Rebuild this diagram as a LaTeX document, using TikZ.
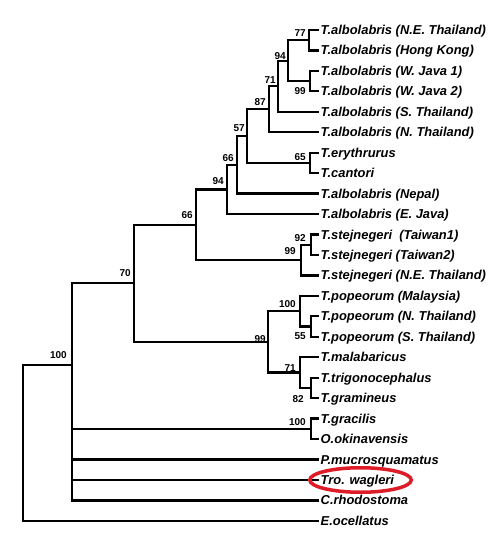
\documentclass[tikz,border=0pt]{standalone}
\usepackage{fontspec}
\newfontfamily\treefont{Liberation Sans}
\definecolor{hlred}{RGB}{222,28,40}
\tikzset{
  br/.style={line width=2.3pt, line join=miter},
  leaf/.style={anchor=west, inner sep=1.5pt, text height=9.1pt, text depth=0pt,
    font=\treefont\bfseries\itshape\fontsize{12.9}{14}\selectfont},
  bootval/.style={anchor=east, inner sep=0pt,
    font=\treefont\bfseries\fontsize{10}{11}\selectfont},
  hlring/.style={draw=hlred, line width=3.5pt}
}
\begin{document}
\begin{tikzpicture}[x=1pt,y=-1pt]
\useasboundingbox[fill=white] (0,0) rectangle (495,540);
% leaves
\node[leaf] (t1)  at (319,30)    {T.albolabris (N.E. Thailand)};
\node[leaf] (t2)  at (319,50.45) {T.albolabris (Hong Kong)};
\node[leaf] (t3)  at (319,70.9)  {T.albolabris (W. Java 1)};
\node[leaf] (t4)  at (319,91.35) {T.albolabris (W. Java 2)};
\node[leaf] (t5)  at (319,111.8) {T.albolabris (S. Thailand)};
\node[leaf] (t6)  at (319,132.25){T.albolabris (N. Thailand)};
\node[leaf] (t7)  at (319,152.7) {T.erythrurus};
\node[leaf] (t8)  at (319,173.15){T.cantori};
\node[leaf] (t9)  at (319,193.6) {T.albolabris (Nepal)};
\node[leaf] (t10) at (319,214.05){T.albolabris (E. Java)};
\node[leaf] (t11) at (319,234.5) {T.stejnegeri\ \ (Taiwan1)};
\node[leaf] (t12) at (319,254.95){T.stejnegeri (Taiwan2)};
\node[leaf] (t13) at (319,275.4) {T.stejnegeri (N.E. Thailand)};
\node[leaf] (t14) at (319,295.85){T.popeorum (Malaysia)};
\node[leaf] (t15) at (319,316.3) {T.popeorum (N. Thailand)};
\node[leaf] (t16) at (319,336.75){T.popeorum (S. Thailand)};
\node[leaf] (t17) at (319,357.2) {T.malabaricus};
\node[leaf] (t18) at (319,377.65){T.trigonocephalus};
\node[leaf] (t19) at (319,398.1) {T.gramineus};
\node[leaf] (t20) at (319,418.55){T.gracilis};
\node[leaf] (t21) at (319,439)   {O.okinavensis};
\node[leaf] (t22) at (319,459.45){P.mucrosquamatus};
\node[leaf] (t23) at (319,479.9) {Tro. wagleri};
\node[leaf] (t24) at (319,500.35){C.rhodostoma};
\node[leaf] (t25) at (319,520.8) {E.ocellatus};
% internal nodes
\coordinate (A)   at (309,40.2);
\coordinate (B)   at (310,81.1);
\coordinate (C)   at (288,60.7);
\coordinate (D)   at (278,86.2);
\coordinate (E)   at (269,109.2);
\coordinate (P65) at (310,162.9);
\coordinate (F)   at (247,136.1);
\coordinate (G)   at (237,164.9);
\coordinate (H)   at (227,189.5);
\coordinate (S92) at (311,244.7);
\coordinate (S99) at (301,260.1);
\coordinate (I)   at (196,224.8);
\coordinate (M)   at (311,326.5);
\coordinate (L)   at (300,311.2);
\coordinate (O)   at (311,387.9);
\coordinate (N)   at (300,372.5);
\coordinate (K)   at (268,341.9);
\coordinate (J)   at (134,283.3);
\coordinate (R)   at (311,428.8);
\coordinate (Q)   at (72,365);
\coordinate (root) at (23,440);
% branches
\draw[br] (t1.west) -| (A) |- (t2.west);
\draw[br] (t3.west) -| (B) |- (t4.west);
\draw[br] (A) -| (C) |- (B);
\draw[br] (C) -| (D) |- (t5.west);
\draw[br] (D) -| (E) |- (t6.west);
\draw[br] (t7.west) -| (P65) |- (t8.west);
\draw[br] (E) -| (F) |- (P65);
\draw[br] (F) -| (G) |- (t9.west);
\draw[br] (G) -| (H) |- (t10.west);
\draw[br] (t11.west) -| (S92) |- (t12.west);
\draw[br] (S92) -| (S99) |- (t13.west);
\draw[br] (H) -| (I) |- (S99);
\draw[br] (t15.west) -| (M) |- (t16.west);
\draw[br] (t14.west) -| (L) |- (M);
\draw[br] (t18.west) -| (O) |- (t19.west);
\draw[br] (t17.west) -| (N) |- (O);
\draw[br] (L) -| (K) |- (N);
\draw[br] (I) -| (J) |- (K);
\draw[br] (t20.west) -| (R) |- (t21.west);
\draw[br] (J) -| (Q) |- (t24.west);
\draw[br] (Q |- R) -- (R);
\draw[br] (Q |- t22.west) -- (t22.west);
\draw[br] (Q |- t23.west) -- (t23.west);
\draw[br] (Q) -| (root) |- (t25.west);
% bootstrap values
\node[bootval] (bA)   at (306,33)  {77};
\node[bootval] (bB)   at (306,91)  {99};
\node[bootval] (bC)   at (286,56)  {94};
\node[bootval] (bD)   at (276,80)  {71};
\node[bootval] (bE)   at (266,102) {87};
\node[bootval] (bF)   at (245,128) {57};
\node[bootval] (bG)   at (234,158) {66};
\node[bootval] (bH)   at (224,181) {94};
\node[bootval] (bI)   at (193,215) {66};
\node[bootval] (bJ)   at (131,273) {70};
\node[bootval] (bQ)   at (67,355)  {100};
\node[bootval] (bP65) at (306,157) {65};
\node[bootval] (bS92) at (306,238) {92};
\node[bootval] (bS99) at (296,251) {99};
\node[bootval] (bL)   at (296,304) {100};
\node[bootval] (bM)   at (306,336) {55};
\node[bootval] (bK)   at (266,339) {99};
\node[bootval] (bN)   at (296,368) {71};
\node[bootval] (bO)   at (304,399) {82};
\node[bootval] (bR)   at (306,422) {100};
% highlight ring
\draw[hlring] (360.5,480) ellipse [x radius=50.75pt, y radius=12.25pt];
\end{tikzpicture}
\end{document}
